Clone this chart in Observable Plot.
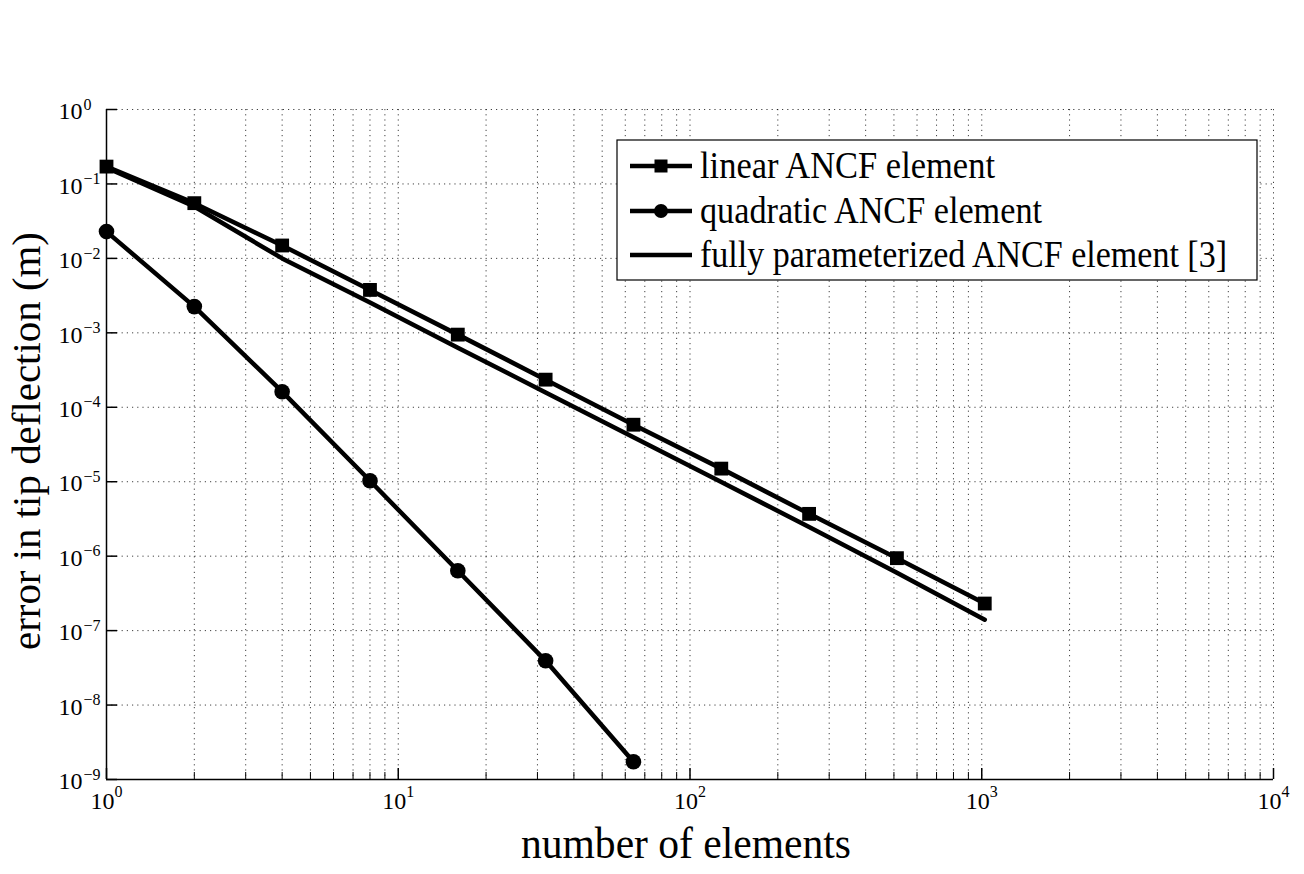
<!DOCTYPE html>
<html>
<head>
<meta charset="utf-8">
<script src="https://cdn.jsdelivr.net/npm/d3@7"></script>
<script src="https://cdn.jsdelivr.net/npm/@observablehq/plot@0.6"></script>
<style>
  html, body { margin: 0; padding: 0; background: #fff; }
  #chart { width: 1304px; height: 874px; }
</style>
</head>
<body>
<div id="chart"></div>
<script>
// ---- data ----
const elements = [1, 2, 4, 8, 16, 32, 64, 128, 256, 512, 1024];
const linearErr = [0.171, 0.0552, 0.0149, 0.00377, 9.46e-4, 2.35e-4, 5.83e-5, 1.50e-5, 3.70e-6, 9.4e-7, 2.31e-7];
const fullErr = [0.165, 0.0497, 0.0100, 0.00255, 6.3e-4, 1.58e-4, 3.95e-5, 9.9e-6, 2.47e-6, 6.0e-7, 1.40e-7];
const quadElements = [1, 2, 4, 8, 16, 32, 64];
const quadErr = [0.0229, 2.25e-3, 1.62e-4, 1.03e-5, 6.37e-7, 3.93e-8, 1.73e-9];

const seriesNames = ["linear ANCF element", "quadratic ANCF element", "fully parameterized ANCF element [3]"];
const xTitle = "number of elements";
const yTitle = "error in tip deflection (m)";

const xMajor = [1, 10, 100, 1000, 10000];
const xExp = ["0", "1", "2", "3", "4"];
const yMajor = [1, 1e-1, 1e-2, 1e-3, 1e-4, 1e-5, 1e-6, 1e-7, 1e-8, 1e-9];
const yExp = ["0", "\u22121", "\u22122", "\u22123", "\u22124", "\u22125", "\u22126", "\u22127", "\u22128", "\u22129"];
const xMinor = [];
for (const d of [1, 10, 100, 1000]) for (const m of [2, 3, 4, 5, 6, 7, 8, 9]) xMinor.push(d * m);

// ---- tables ----
const linearData = elements.map((x, i) => ({x, y: linearErr[i]}));
const fullData = elements.map((x, i) => ({x, y: fullErr[i]}));
const quadData = quadElements.map((x, i) => ({x, y: quadErr[i]}));

const W = 1304, H = 874;
const mL = 106, mT = 109, mR = 31, mB = 95;
const plotW = W - mL - mR, plotH = H - mT - mB;
const FONT = "Liberation Serif, Times New Roman, serif";
const grid = {stroke: "#000", strokeOpacity: 0.75, strokeWidth: 1, strokeDasharray: "1.2,4"};

const svg = Plot.plot({
  width: W, height: H,
  marginLeft: mL, marginTop: mT, marginRight: mR, marginBottom: mB,
  style: {fontFamily: FONT, background: "#fff", color: "#000"},
  x: {type: "log", domain: [1, 1e4], axis: null},
  y: {type: "log", domain: [1e-9, 1], axis: null},
  marks: [
    // grid
    Plot.ruleX([...xMajor, ...xMinor], {x: d => d, ...grid}),
    Plot.ruleY(yMajor, {y: d => d, ...grid}),
    // ticks (inward)
    Plot.ruleX(xMajor, {x: d => d, insetTop: plotH - 11, stroke: "#000", strokeWidth: 1.5}),
    Plot.ruleX(xMinor, {x: d => d, insetTop: plotH - 7, stroke: "#000", strokeWidth: 1}),
    Plot.ruleY(yMajor, {y: d => d, insetRight: plotW - 11, stroke: "#000", strokeWidth: 1.5}),
    // axis lines
    Plot.ruleX([1], {stroke: "#000", strokeWidth: 1.5}),
    Plot.ruleY([1e-9], {stroke: "#000", strokeWidth: 1.5}),
    // series
    Plot.line(fullData, {x: "x", y: "y", stroke: "#000", strokeWidth: 4.5}),
    Plot.line(linearData, {x: "x", y: "y", stroke: "#000", strokeWidth: 4.5}),
    Plot.dot(linearData, {x: "x", y: "y", symbol: "square", r: 7.8, fill: "#000", stroke: "none"}),
    Plot.line(quadData, {x: "x", y: "y", stroke: "#000", strokeWidth: 4.5}),
    Plot.dot(quadData, {x: "x", y: "y", symbol: "circle", r: 7.8, fill: "#000", stroke: "none"}),
    // tick labels
    Plot.text(xMajor, {x: d => d, text: () => "10", frameAnchor: "bottom", dx: -4, dy: 29, fontSize: 24, fontFamily: FONT, fill: "#000"}),
    Plot.text(xMajor, {x: d => d, text: (d, i) => xExp[i], frameAnchor: "bottom", textAnchor: "start", dx: 8, dy: 17, fontSize: 16, fontFamily: FONT, fill: "#000"}),
    Plot.text(yMajor, {y: d => d, text: () => "10", frameAnchor: "left", textAnchor: "end", dx: -24, dy: 2, fontSize: 24, fontFamily: FONT, fill: "#000"}),
    Plot.text(yMajor, {y: d => d, text: (d, i) => yExp[i], frameAnchor: "left", textAnchor: "start", dx: -23, dy: -5, fontSize: 16, fontFamily: FONT, fill: "#000"})
  ]
});

const s = d3.select(svg);
// axis titles
s.append("text")
  .attr("x", 686).attr("y", 858)
  .attr("text-anchor", "middle")
  .attr("font-family", FONT).attr("font-size", 44)
  .attr("textLength", 330).attr("lengthAdjust", "spacingAndGlyphs")
  .attr("fill", "#000")
  .text(xTitle);
s.append("text")
  .attr("transform", "translate(40,441) rotate(-90)")
  .attr("text-anchor", "middle")
  .attr("font-family", FONT).attr("font-size", 40)
  .attr("textLength", 418).attr("lengthAdjust", "spacingAndGlyphs")
  .attr("fill", "#000")
  .text(yTitle);

// legend
const lg = s.append("g");
lg.append("rect").attr("x", 617).attr("y", 140).attr("width", 640).attr("height", 140)
  .attr("fill", "#fff").attr("stroke", "#000").attr("stroke-width", 1.2);
const rowsY = [166, 211, 255];
const textLens = [295, 342, 527];
rowsY.forEach((yy, i) => {
  lg.append("line").attr("x1", 630).attr("x2", 692).attr("y1", yy).attr("y2", yy)
    .attr("stroke", "#000").attr("stroke-width", 4.5);
  if (i === 0) lg.append("rect").attr("x", 661 - 6.5).attr("y", yy - 6.5).attr("width", 13).attr("height", 13).attr("fill", "#000");
  if (i === 1) lg.append("circle").attr("cx", 661).attr("cy", yy).attr("r", 7).attr("fill", "#000");
  lg.append("text").attr("x", 700).attr("y", yy + 12)
    .attr("text-anchor", "start")
    .attr("font-family", FONT).attr("font-size", 38)
    .attr("textLength", textLens[i]).attr("lengthAdjust", "spacingAndGlyphs")
    .attr("fill", "#000")
    .text(seriesNames[i]);
});

document.getElementById("chart").appendChild(svg);
</script>
</body>
</html>
